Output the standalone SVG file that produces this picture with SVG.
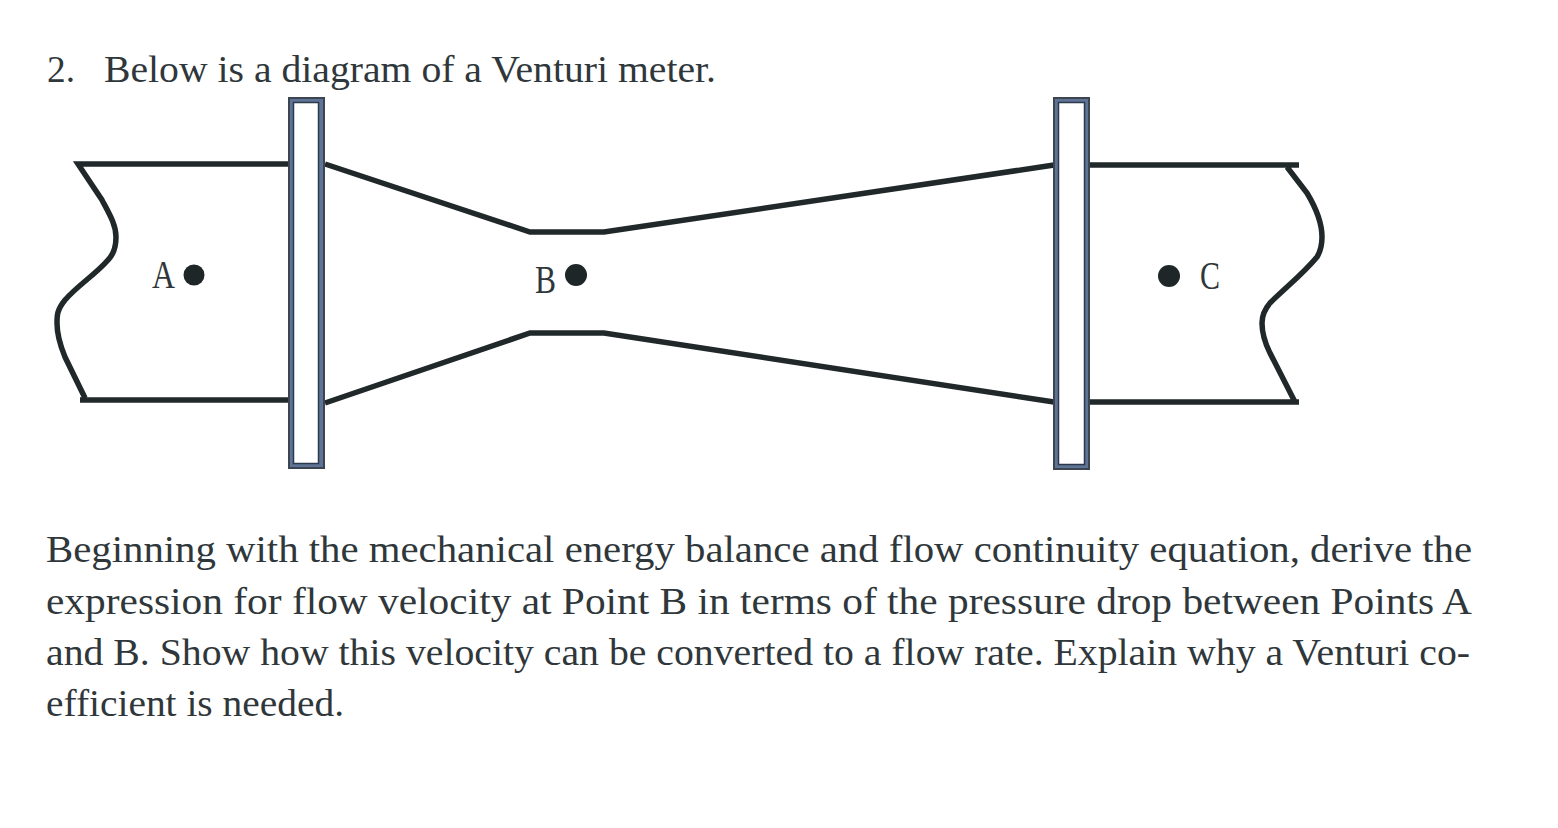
<svg xmlns="http://www.w3.org/2000/svg" width="1558" height="828" viewBox="0 0 1558 828">
<style>
text{font-family:"Liberation Serif","DejaVu Serif",serif;fill:#2f373b}
.t{font-size:38px}
.l{font-size:40px}
.p{fill:none;stroke:#20282a;stroke-width:5.5;stroke-linejoin:miter}
.f{fill:#5f7396;stroke:#3d4650;stroke-width:2}
.fi{fill:#fff;stroke:#2b3a4a;stroke-width:1.5}
.d{fill:#1e2628}
</style>
<rect width="1558" height="828" fill="#fff"/>
<g id="question">
<text class="t" x="47" y="82" textLength="28" lengthAdjust="spacingAndGlyphs">2.</text>
<text class="t" x="104" y="82" textLength="612" lengthAdjust="spacingAndGlyphs">Below is a diagram of a Venturi meter.</text>
</g>
<g id="connectors">
<path class="p" d="M288 164H78L102 200C110 215 116 225 116 237C116 250 112 256 108 260C95 275 78 285 65 300C57 310 57 315 57 323C57 335 60 345 65 357L85 398M80 400H288"/>
<path class="p" d="M325 164L530 232H604L1054 165"/>
<path class="p" d="M325 403L530 333H604L1054 402"/>
<path class="p" d="M1089 165H1299M1287 167L1307 193C1316 208 1322 224 1322 237C1322 247 1320 252 1317 257C1302 275 1285 288 1270 303C1264 310 1262 316 1262 323C1262 333 1265 343 1270 353L1295 402M1089 402H1299"/>
</g>
<g id="flange-left"><rect class="f" x="289" y="98" width="35" height="370"/><rect class="fi" x="293.500" y="102.500" width="25" height="361"/></g>
<g id="flange-right"><rect class="f" x="1054" y="98" width="35" height="371"/><rect class="fi" x="1058.500" y="102.500" width="26" height="362"/></g>
<g id="point-a"><text class="l" x="152" y="288" textLength="23" lengthAdjust="spacingAndGlyphs">A</text><circle class="d" cx="194" cy="275" r="10.500"/></g>
<g id="point-b"><text class="l" x="535" y="293" textLength="21" lengthAdjust="spacingAndGlyphs">B</text><circle class="d" cx="576" cy="275" r="11"/></g>
<g id="point-c"><circle class="d" cx="1169" cy="276" r="11"/><text class="l" x="1200" y="289" textLength="20" lengthAdjust="spacingAndGlyphs">C</text></g>
<g id="body">
<text class="t" x="46" y="562" textLength="1426" lengthAdjust="spacingAndGlyphs">Beginning with the mechanical energy balance and flow continuity equation, derive the</text>
<text class="t" x="46" y="614" textLength="1426" lengthAdjust="spacingAndGlyphs">expression for flow velocity at Point B in terms of the pressure drop between Points A</text>
<text class="t" x="46" y="665" textLength="1424" lengthAdjust="spacingAndGlyphs">and B. Show how this velocity can be converted to a flow rate. Explain why a Venturi co-</text>
<text class="t" x="46" y="716" textLength="298" lengthAdjust="spacingAndGlyphs">efficient is needed.</text>
</g>
</svg>
